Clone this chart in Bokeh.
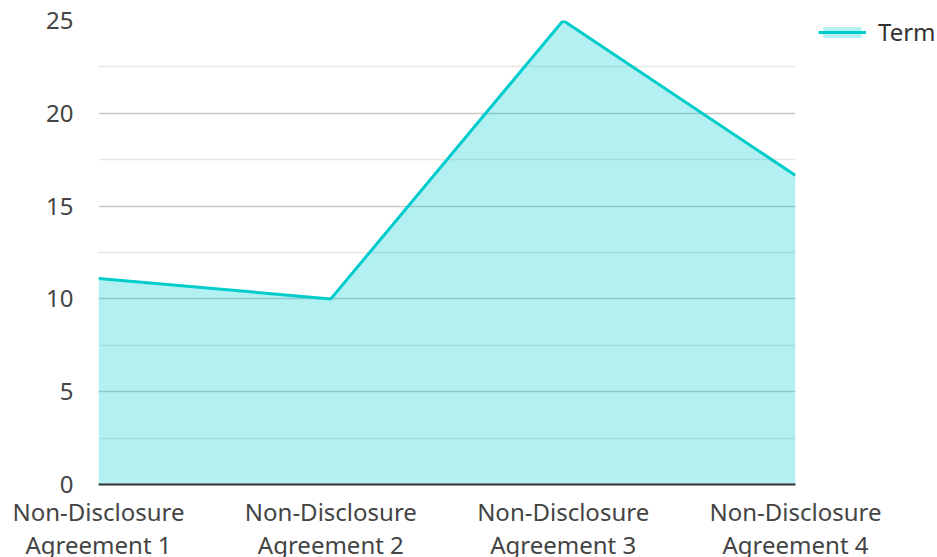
from bokeh.plotting import figure
from bokeh.models import Range1d, FixedTicker, Legend, LegendItem
from bokeh.embed import file_html
from bokeh.resources import INLINE

categories = ["Non-Disclosure\nAgreement 1", "Non-Disclosure\nAgreement 2",
              "Non-Disclosure\nAgreement 3", "Non-Disclosure\nAgreement 4"]
term = [11.1, 10.0, 25.0, 16.65]
y_ticks = [0, 5, 10, 15, 20, 25]
y_minor = [2.5, 7.5, 12.5, 17.5, 22.5]

FONT = "Noto Sans"
xs = list(range(len(categories)))

p = figure(frame_width=697, frame_height=464, output_backend="svg", toolbar_location=None,
           x_range=Range1d(0, len(categories) - 1), y_range=Range1d(0, 25),
           min_border_left=98, min_border_top=20, min_border_bottom=68, min_border_right=140)
p.outline_line_color = None
p.background_fill_color = "white"
p.border_fill_color = "white"

a = p.varea(x=xs, y1=0, y2=term, fill_color="#00CED1", fill_alpha=0.3)
l = p.line(x=xs, y=term, line_color="#00CCCC", line_width=3)

p.xgrid.grid_line_color = None
p.ygrid.ticker = FixedTicker(ticks=y_ticks, minor_ticks=y_minor)
p.ygrid.grid_line_color = "#c8c8c8"
p.ygrid.grid_line_width = 1.5
p.ygrid.minor_grid_line_color = "#e6e6e6"
p.ygrid.minor_grid_line_width = 1.5

p.yaxis.ticker = FixedTicker(ticks=y_ticks)
p.yaxis.axis_line_color = None
p.yaxis.major_tick_line_color = None
p.yaxis.minor_tick_line_color = None
p.yaxis.major_label_text_font = FONT
p.yaxis.major_label_text_font_size = "24px"
p.yaxis.major_label_text_color = "#444444"
p.yaxis.major_label_standoff = 19

p.xaxis.ticker = FixedTicker(ticks=xs)
p.xaxis.major_label_overrides = {i: c for i, c in zip(xs, categories)}
p.xaxis.axis_line_color = "#333333"
p.xaxis.axis_line_width = 2
p.xaxis.major_tick_line_color = None
p.xaxis.minor_tick_line_color = None
p.xaxis.major_label_text_font = FONT
p.xaxis.major_label_text_font_size = "24px"
p.xaxis.major_label_text_line_height = 1.0
p.xaxis.major_label_text_color = "#444444"
p.xaxis.major_label_standoff = 4

legend = Legend(items=[LegendItem(label="Term", renderers=[a, l])],
                location=(23, 436), padding=0, margin=0, glyph_width=48, glyph_height=14,
                label_standoff=12, label_text_font=FONT, label_text_font_size="24px",
                label_text_color="#333333", border_line_color=None, background_fill_alpha=0)
p.add_layout(legend, "right")

open("out.html", "w").write(file_html(p, INLINE))
